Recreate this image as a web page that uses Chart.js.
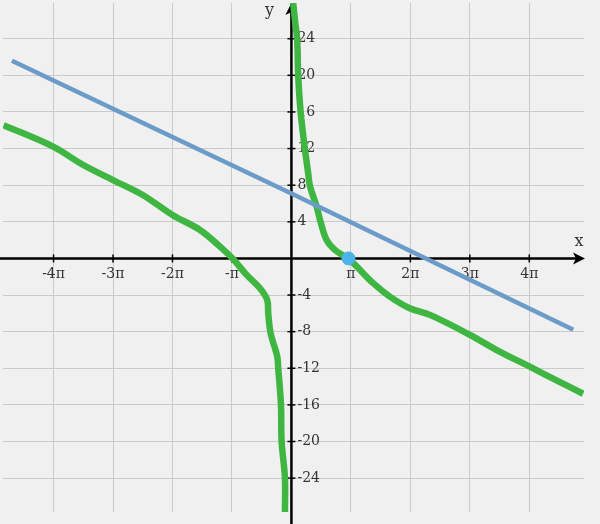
<!DOCTYPE html>
<html>
<head>
<meta charset="utf-8">
<script src="https://cdn.jsdelivr.net/npm/chart.js@4.4.1/dist/chart.umd.min.js"></script>
<style>
    html, body { margin: 0; padding: 0; background: #f0f0f0; }
    #marco { width: 600px; height: 524px; position: relative; }
</style>
</head>
<body>
<div id="marco"><canvas id="grafica"></canvas></div>
<script>
// x values are in multiples of π
const xTicks = [-4, -3, -2, -1, 1, 2, 3, 4];
const xTickLabels = ['-4π', '-3π', '-2π', '-π', 'π', '2π', '3π', '4π'];
const yTicks = [-24, -20, -16, -12, -8, -4, 4, 8, 12, 16, 20, 24];

// recta azul
const rectaX = [-4.70, 0, 4.74];
const rectaY = [21.6, 7.1, -7.8];

// rama izquierda de la curva verde
const izqX = [-4.84, -4.0, -3.5, -3.0, -2.5, -2.0, -1.538, -1.2, -0.978, -0.753, -0.529, -0.407, -0.39, -0.35, -0.239, -0.222, -0.176, -0.165, -0.109, -0.109];
const izqY = [14.56, 12.19, 10.2, 8.56, 6.93, 4.74, 3.11, 1.29, -0.09, -1.8, -3.26, -4.54, -5.99, -8.17, -10.7, -11.97, -15.98, -19.98, -23.97, -27.8];

// rama derecha de la curva verde
const derX = [0.03, 0.06, 0.097, 0.114, 0.155, 0.227, 0.282, 0.311, 0.424, 0.496, 0.592, 0.731, 0.899, 1.04, 1.375, 1.655, 1.99, 2.33, 3.0, 3.5, 4.0, 4.5, 4.905];
const derY = [27.9, 26.0, 23.9, 20.0, 16.0, 11.93, 9.31, 7.92, 5.66, 3.85, 2.02, 0.93, 0.2, -0.52, -2.71, -4.17, -5.44, -6.17, -8.34, -10.18, -11.8, -13.46, -14.78];

// punto azul
const puntoX = [0.96];
const puntoY = [0];

const aPuntos = (xs, ys) => xs.map((x, i) => ({ x: x, y: ys[i] }));

const fuente = '"DejaVu Serif", serif';

/**
 * Ejes cartesianos con flechas, marcas y etiquetas sobre el origen
 */
const ejesCartesianos = {
    id: 'ejesCartesianos',
    beforeDatasetsDraw(chart) {
        const { ctx, scales: { x, y } } = chart;
        const x0 = x.getPixelForValue(0);
        const y0 = y.getPixelForValue(0);
        const derecha = chart.chartArea.right + 1;
        const arriba = chart.chartArea.top;

        ctx.save();
        ctx.strokeStyle = '#000';
        ctx.fillStyle = '#000';
        ctx.lineWidth = 2.5;

        // eje x
        ctx.beginPath();
        ctx.moveTo(0, y0);
        ctx.lineTo(derecha - 8, y0);
        ctx.stroke();
        ctx.beginPath();
        ctx.moveTo(derecha, y0);
        ctx.lineTo(derecha - 12, y0 - 6);
        ctx.lineTo(derecha - 9, y0);
        ctx.lineTo(derecha - 12, y0 + 6);
        ctx.closePath();
        ctx.fill();

        // eje y
        ctx.beginPath();
        ctx.moveTo(x0, chart.height);
        ctx.lineTo(x0, arriba + 8);
        ctx.stroke();
        ctx.beginPath();
        ctx.moveTo(x0, arriba);
        ctx.lineTo(x0 - 6, arriba + 12);
        ctx.lineTo(x0, arriba + 9);
        ctx.lineTo(x0 + 6, arriba + 12);
        ctx.closePath();
        ctx.fill();

        // marcas
        ctx.lineWidth = 1.5;
        xTicks.forEach(v => {
            const px = x.getPixelForValue(v);
            ctx.beginPath();
            ctx.moveTo(px, y0 - 4);
            ctx.lineTo(px, y0 + 4);
            ctx.stroke();
        });
        yTicks.forEach(v => {
            const py = y.getPixelForValue(v);
            ctx.beginPath();
            ctx.moveTo(x0 - 4, py);
            ctx.lineTo(x0 + 4, py);
            ctx.stroke();
        });

        // etiquetas
        ctx.fillStyle = '#333';
        ctx.font = '14px ' + fuente;
        ctx.textAlign = 'center';
        ctx.textBaseline = 'middle';
        xTicks.forEach((v, i) => {
            ctx.fillText(xTickLabels[i], x.getPixelForValue(v), y0 + 16);
        });
        ctx.textAlign = 'left';
        yTicks.forEach(v => {
            ctx.fillText(String(v), x0 + 6, y.getPixelForValue(v));
        });

        ctx.font = '16px ' + fuente;
        ctx.textAlign = 'center';
        ctx.fillText('y', x0 - 22, arriba + 8);
        ctx.fillText('x', derecha - 6, y0 - 17);
        ctx.restore();
    }
};

new Chart(document.getElementById('grafica'), {
    type: 'scatter',
    data: {
        datasets: [
            {
                label: 'punto',
                data: aPuntos(puntoX, puntoY),
                backgroundColor: '#4db3ea',
                borderColor: '#4db3ea',
                pointRadius: 6.5,
                showLine: false
            },
            {
                label: 'recta',
                data: aPuntos(rectaX, rectaY),
                borderColor: '#6b9bc8',
                borderWidth: 4.5,
                pointRadius: 0,
                showLine: true
            },
            {
                label: 'rama derecha',
                data: aPuntos(derX, derY),
                borderColor: '#3fb542',
                borderWidth: 6.5,
                pointRadius: 0,
                tension: 0.35,
                showLine: true
            },
            {
                label: 'rama izquierda',
                data: aPuntos(izqX, izqY),
                borderColor: '#3fb542',
                borderWidth: 6.5,
                pointRadius: 0,
                tension: 0.35,
                showLine: true
            }
        ]
    },
    options: {
        responsive: true,
        maintainAspectRatio: false,
        animation: false,
        layout: { autoPadding: false, padding: { left: 3, top: 3, right: 16, bottom: 12 } },
        plugins: { legend: { display: false }, tooltip: { enabled: false } },
        scales: {
            x: {
                type: 'linear',
                min: -4.85,
                max: 4.92,
                ticks: { display: false, stepSize: 1, includeBounds: false },
                grid: { color: '#cacaca', lineWidth: 1, drawTicks: false },
                border: { display: false }
            },
            y: {
                type: 'linear',
                min: -27.7,
                max: 27.9,
                ticks: { display: false, stepSize: 4, includeBounds: false },
                grid: { color: '#cacaca', lineWidth: 1, drawTicks: false },
                border: { display: false }
            }
        }
    },
    plugins: [ejesCartesianos]
});
</script>
</body>
</html>
